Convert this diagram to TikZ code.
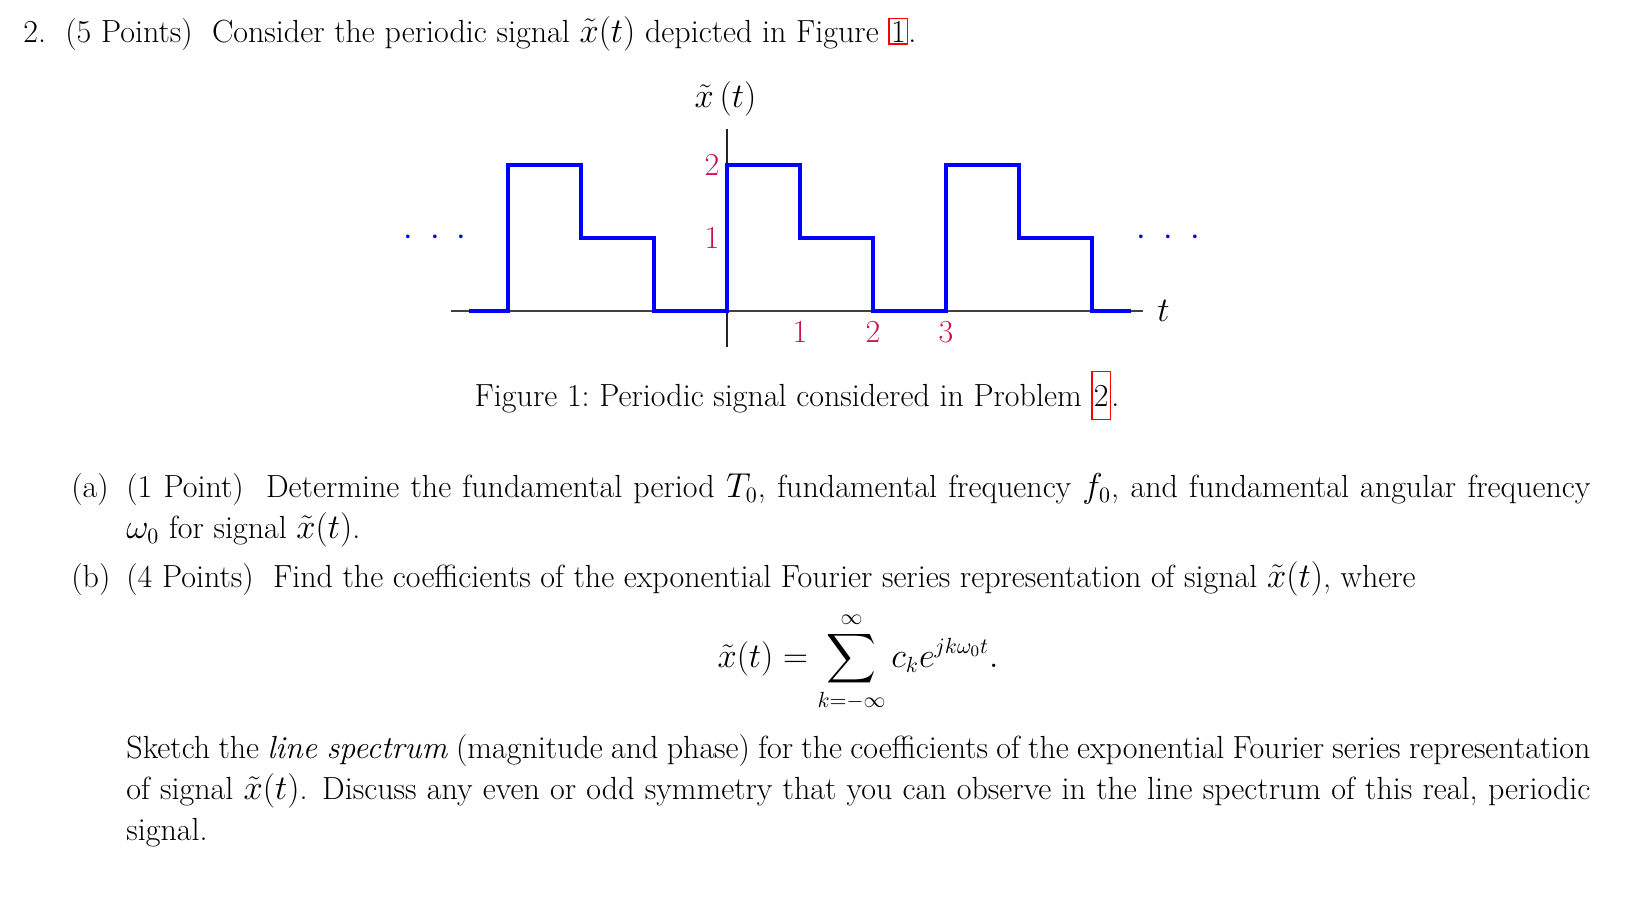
\documentclass[tikz,border=0pt]{standalone}
\usepackage{amsmath}
\begin{document}
\begin{tikzpicture}[x=0.5pt,y=-0.5pt,
  txt/.style={anchor=base west,inner sep=0pt,font=\fontsize{16}{20.5}\selectfont},
  lab/.style={text={rgb,255:red,200;green,20;blue,80},inner sep=0pt,font=\fontsize{16}{18}\selectfont},
  sig/.style={blue,line width=1.6pt},
  refbox/.style={draw=red,line width=0.6pt,inner sep=1.5pt}]
\useasboundingbox (0,0) rectangle (1632,910);
\fill[white] (0,0) rectangle (1632,910);
% title line
\node[txt] (title) at (23,42) {2.\ \ (5 Points)\ \ Consider the periodic signal $\tilde{x}(t)$ depicted in Figure \tikz[baseline=(r1.base)]\node[refbox,inner sep=1pt](r1){1};.};
% figure
\begin{scope}[shift={(727,311)},x=36.5pt,y=36.5pt]
\draw[black!75,line width=0.9pt] (-3.78,0) coordinate (ax0) -- (5.7,0) coordinate (ax1);
\draw[black!85,line width=0.7pt] (0,-0.49) coordinate (ay0) -- (0,2.5) coordinate (ay1);
\draw[sig] (-3.53,0) -- (-3,0) -- (-3,2) -- (-2,2) -- (-2,1) -- (-1,1) -- (-1,0) -- (0,0) -- (0,2) -- (1,2) -- (1,1) -- (2,1) -- (2,0) -- (3,0) -- (3,2) -- (4,2) -- (4,1) -- (5,1) -- (5,0) -- (5.53,0);
\node[blue,font=\fontsize{16}{18}\selectfont] (dl) at (-4.0,1.0) {$\cdot\;\cdot\;\cdot$};
\node[blue,font=\fontsize{16}{18}\selectfont] (dr) at (6.05,1.0) {$\cdot\;\cdot\;\cdot$};
\node[lab,anchor=east] (l2) at (-0.1,2) {2};
\node[lab,anchor=east] (l1) at (-0.1,1) {1};
\node[lab] (t1) at (1,-0.29) {1};
\node[lab] (t2) at (2,-0.29) {2};
\node[lab] (t3) at (3,-0.29) {3};
\node[inner sep=0pt,font=\fontsize{16}{18}\selectfont] (tl) at (5.98,0) {$t$};
\node[inner sep=0pt,font=\fontsize{16}{18}\selectfont] (yl) at (-0.02,2.9) {$\tilde{x}\,(t)$};
\end{scope}
\node[txt,anchor=base] (cap) at (797,406) {Figure 1:\ Periodic signal considered in Problem \tikz[baseline=(r2.base)]\node[refbox,inner sep=1pt,minimum height=24pt](r2){2};.};
% (a)
\node[txt] (a) at (71,497) {(a)};
\node[txt,text width=732pt,align=justify] (atext) at (126,497) {(1 Point)\ \ Determine the fundamental period $T_0$, fundamental frequency $f_0$, and fundamental angular frequency\linebreak $\omega_0$ for signal $\tilde{x}(t)$.};
\node[txt] (b) at (71,587) {(b)};
\node[txt] (btext) at (126,587) {(4 Points)\ \ Find the coefficients of the exponential Fourier series representation of signal $\tilde{x}(t)$, where};
\node[inner sep=0pt,font=\fontsize{16}{20.5}\selectfont] (eq) at (858,662) {$\displaystyle \tilde{x}(t)=\sum_{k=-\infty}^{\infty} c_k e^{jk\omega_0 t}.$};
\node[txt,text width=732pt,align=justify] (sk) at (126,758) {Sketch the \textit{line spectrum} (magnitude and phase) for the coefficients of the exponential Fourier series representation\linebreak of signal $\tilde{x}(t)$. Discuss any even or odd symmetry that you can observe in the line spectrum of this real, periodic\linebreak signal.};
\end{tikzpicture}
\end{document}
